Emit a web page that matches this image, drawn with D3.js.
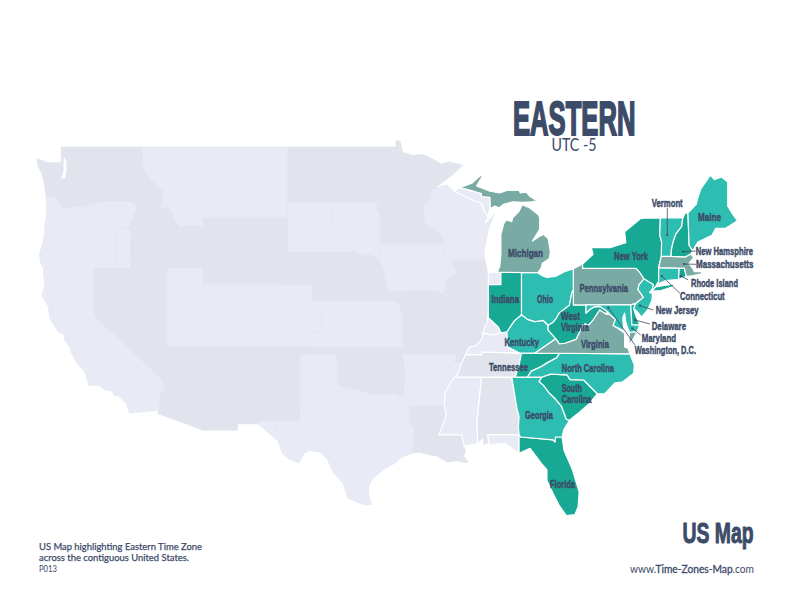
<!DOCTYPE html>
<html>
<head>
<meta charset="utf-8">
<style>
  html, body { margin: 0; padding: 0; background: #fff; }
  svg { display: block; }
  .narrow { font-family: "Liberation Sans Narrow", "Liberation Sans", sans-serif; font-weight: 700; }
  .lato { font-family: Lato, sans-serif; }
</style>
<script src="https://cdn.jsdelivr.net/npm/d3@7"></script>
</head>
<body>
<svg id="map" width="793" height="613"></svg>
<script>
// state outlines, [lon, lat]
const washington = [[-124.73,48.38],[-123.9,48.16],[-123.1,48.15],[-122.75,48.15],[-122.75,49],[-117.03,49],[-117.04,46.42],[-116.92,46],[-119,46],[-119.3,45.93],[-119.9,45.85],[-120.6,45.74],[-121.2,45.65],[-121.7,45.7],[-122.3,45.55],[-122.75,45.65],[-122.8,45.85],[-123.1,46.15],[-123.4,46.2],[-124,46.27],[-124.1,46.7],[-124.15,47],[-124.4,47.6],[-124.7,48]];
const pugetSound = [[-122.55,48.45],[-122.35,48.3],[-122.3,47.8],[-122.4,47.3],[-122.75,47.25],[-122.55,47.7]];
const oregon = [[-124,46.27],[-123.95,45.9],[-123.97,45.2],[-124.1,44.6],[-124.15,43.9],[-124.4,43.2],[-124.55,42.85],[-124.42,42.3],[-124.2,42],[-117.03,42],[-117.03,43.83],[-116.9,44.15],[-117.03,44.25],[-117.2,44.45],[-116.85,45],[-116.67,45.3],[-116.46,45.6],[-116.55,45.75],[-116.78,45.83],[-116.92,46],[-119,46],[-119.3,45.93],[-119.9,45.85],[-120.6,45.74],[-121.2,45.65],[-121.7,45.7],[-122.3,45.55],[-122.75,45.65],[-122.8,45.85],[-123.1,46.15],[-123.4,46.2]];
const california = [[-124.2,42],[-120,42],[-120,39],[-114.63,35],[-114.14,34.3],[-114.45,34],[-114.72,33.4],[-114.52,33.03],[-114.72,32.72],[-117.12,32.53],[-117.25,32.85],[-117.35,33.15],[-118,33.7],[-118.4,33.75],[-118.5,34.03],[-119.2,34.15],[-119.6,34.42],[-120.47,34.45],[-120.65,34.95],[-120.85,35.4],[-121.5,36],[-121.9,36.6],[-122,36.95],[-122.5,37.5],[-122.5,37.8],[-123,38],[-123.7,38.9],[-123.8,39.6],[-124.35,40.3],[-124.1,41],[-124.2,41.75]];
const nevada = [[-120,42],[-114.04,42],[-114.04,36.2],[-114.7,36.1],[-114.63,35],[-120,39]];
const idaho = [[-117.03,49],[-116.05,49],[-116.05,48],[-115.7,47.5],[-114.7,46.7],[-114.35,46.65],[-114.5,45.55],[-113.95,45.7],[-113.45,45.05],[-113,44.45],[-112.3,44.55],[-111.5,44.55],[-111.05,44.48],[-111.05,42],[-117.03,42],[-117.03,43.83],[-116.9,44.15],[-117.03,44.25],[-117.2,44.45],[-116.85,45],[-116.67,45.3],[-116.46,45.6],[-116.55,45.75],[-116.78,45.83],[-116.92,46],[-117.04,46.42]];
const montana = [[-116.05,49],[-104.05,49],[-104.05,45],[-111.05,45],[-111.05,44.48],[-111.5,44.55],[-112.3,44.55],[-113,44.45],[-113.45,45.05],[-113.95,45.7],[-114.5,45.55],[-114.35,46.65],[-114.7,46.7],[-115.7,47.5],[-116.05,48]];
const wyoming = [[-111.05,45],[-104.05,45],[-104.05,41],[-111.05,41]];
const utah = [[-114.04,42],[-111.05,42],[-111.05,41],[-109.05,41],[-109.05,37],[-114.04,37]];
const colorado = [[-109.05,41],[-102.05,41],[-102.05,37],[-109.05,37]];
const arizona = [[-114.04,37],[-109.05,37],[-109.05,31.33],[-111.07,31.33],[-114.81,32.5],[-114.72,32.72],[-114.52,33.03],[-114.72,33.4],[-114.45,34],[-114.14,34.3],[-114.63,35],[-114.7,36.1],[-114.04,36.2]];
const newMexico = [[-109.05,37],[-103,37],[-103.04,32],[-106.62,32],[-106.53,31.78],[-108.21,31.78],[-108.21,31.33],[-109.05,31.33]];
const texas = [[-103.04,36.5],[-100,36.5],[-100,34.56],[-99.7,34.4],[-99.2,34.3],[-98.6,34.15],[-98.1,34.13],[-97.5,33.9],[-97.1,33.75],[-96.6,33.85],[-96,33.85],[-95.3,33.88],[-94.48,33.64],[-94.04,33.55],[-94.04,32],[-93.55,31.2],[-93.7,30.6],[-93.7,30.1],[-93.85,29.7],[-94.7,29.4],[-95.2,29],[-96.2,28.5],[-97.1,27.85],[-97.4,27.3],[-97.4,26.6],[-97.15,25.96],[-97.6,25.9],[-98.2,26.07],[-99.1,26.4],[-99.5,27.5],[-100.3,28.3],[-100.8,29.25],[-101.4,29.77],[-102.3,29.88],[-102.7,29.7],[-103.15,28.98],[-104,29.3],[-104.5,29.65],[-104.9,30.6],[-106,31.4],[-106.53,31.78],[-106.62,32],[-103.04,32]];
const oklahoma = [[-103,37],[-94.62,37],[-94.43,35.4],[-94.48,33.64],[-95.3,33.88],[-96,33.85],[-96.6,33.85],[-97.1,33.75],[-97.5,33.9],[-98.1,34.13],[-98.6,34.15],[-99.2,34.3],[-99.7,34.4],[-100,34.56],[-100,36.5],[-103.04,36.5]];
const kansas = [[-102.05,40],[-95.31,40],[-94.95,39.85],[-94.6,39.1],[-94.62,37],[-102.05,37]];
const nebraska = [[-104.05,43],[-98.5,43],[-98,42.77],[-97.3,42.85],[-96.45,42.5],[-96.1,41.7],[-95.9,41],[-95.31,40],[-102.05,40],[-102.05,41],[-104.05,41]];
const northDakota = [[-104.05,49],[-97.23,49],[-97.1,48],[-96.85,47.5],[-96.55,46.5],[-96.56,45.94],[-104.05,45.94]];
const southDakota = [[-104.05,45.94],[-96.56,45.94],[-96.85,45.6],[-96.45,45.3],[-96.45,43.5],[-96.6,43.5],[-96.45,42.5],[-97.3,42.85],[-98,42.77],[-98.5,43],[-104.05,43]];
const minnesota = [[-97.23,49],[-95.15,49],[-95.15,49.38],[-94.8,49.3],[-94.6,48.72],[-93.8,48.55],[-92.9,48.6],[-92,48.3],[-91.4,48.07],[-90.8,48.2],[-89.6,48],[-90.8,47.3],[-92,46.7],[-92.29,46.66],[-92.29,46.1],[-92.9,45.7],[-92.75,45],[-92.8,44.75],[-91.9,44.3],[-91.25,43.85],[-91.22,43.5],[-96.45,43.5],[-96.45,45.3],[-96.85,45.6],[-96.56,45.94],[-96.55,46.5],[-96.85,47.5],[-97.1,48]];
const iowa = [[-96.45,43.5],[-91.22,43.5],[-91.1,42.7],[-90.65,42.5],[-90.15,41.8],[-91.05,41.2],[-91,40.7],[-91.42,40.38],[-91.73,40.61],[-95.77,40.58],[-95.9,41],[-96.1,41.7],[-96.45,42.5],[-96.6,43.5]];
const missouri = [[-95.77,40.58],[-91.73,40.61],[-91.42,40.38],[-91.5,40],[-90.75,39.25],[-90.7,38.9],[-90.15,38.8],[-90.2,38.4],[-89.5,37.9],[-89.5,37.3],[-89.13,36.98],[-89.4,36.5],[-89.7,36],[-90.37,36],[-90.15,36.5],[-94.62,36.5],[-94.62,37],[-94.6,39.1],[-94.95,39.85],[-95.31,40]];
const arkansas = [[-94.62,36.5],[-90.15,36.5],[-90.37,36],[-89.7,36],[-90.1,35.1],[-90.6,34.7],[-91.1,33.9],[-91.17,33],[-94.04,33],[-94.04,33.55],[-94.48,33.64],[-94.43,35.4]];
const louisiana = [[-94.04,33],[-91.17,33],[-91,32.4],[-91.6,31],[-89.73,31],[-89.53,30.2],[-89.4,29.8],[-89.6,29.5],[-89.2,29.1],[-89.4,29],[-90.1,29.15],[-90.9,29.05],[-91.8,29.5],[-92.3,29.55],[-93.2,29.77],[-93.85,29.7],[-93.7,30.1],[-93.7,30.6],[-93.55,31.2],[-94.04,32]];
const mississippi = [[-91.17,33],[-91.1,33.9],[-90.6,34.7],[-90.3,35],[-88.2,35],[-88.1,34.9],[-88.47,31.9],[-88.4,30.37],[-89.53,30.2],[-89.73,31],[-91.6,31],[-91,32.4]];
const alabama = [[-88.2,35],[-85.6,35],[-85.18,32.87],[-85,32.3],[-85.05,31.55],[-85,31],[-87.6,31],[-87.45,30.4],[-88,30.25],[-88,30.7],[-88.4,30.37],[-88.47,31.9],[-88.1,34.9]];
const floridaPanhandle = [[-87.6,31],[-85,31],[-85,29.7],[-86.2,30.4],[-87.45,30.3],[-87.45,30.4]];
const florida = [[-85,31],[-84.86,30.85],[-82.2,30.65],[-82.05,30.5],[-82,30.85],[-81.45,30.85],[-81.3,29.9],[-80.6,28.5],[-80.05,26.9],[-80.13,25.8],[-80.4,25.2],[-81.1,25.13],[-81.7,25.9],[-82.1,26.6],[-82.7,27.7],[-82.7,28.5],[-83.2,29],[-83.7,29.6],[-84.1,30.05],[-85,29.7]];
const georgia = [[-85.6,35],[-83.1,35],[-83.35,34.7],[-83,34.45],[-82.55,33.95],[-82,33.5],[-81.5,33],[-81.1,32.1],[-80.85,32.03],[-81.3,31.4],[-81.45,30.85],[-82,30.85],[-82.05,30.5],[-82.2,30.65],[-84.86,30.85],[-85,31],[-85.05,31.55],[-85,32.3],[-85.18,32.87]];
const southCarolina = [[-83.1,35],[-82.4,35.2],[-81.05,35.15],[-80.8,34.82],[-79.68,34.8],[-78.55,33.86],[-79.2,33.2],[-80,32.6],[-80.85,32.03],[-81.1,32.1],[-81.5,33],[-82,33.5],[-82.55,33.95],[-83,34.45],[-83.35,34.7]];
const northCarolina = [[-84.32,35],[-83.1,35],[-82.4,35.2],[-81.05,35.15],[-80.8,34.82],[-79.68,34.8],[-78.55,33.86],[-77.95,33.85],[-77.1,34.6],[-76.5,34.65],[-75.55,35.25],[-75.5,35.8],[-75.87,36.55],[-81.68,36.59],[-81.9,36.3],[-82.6,36],[-83.2,35.7],[-84,35.4]];
const tennesseeEast = [[-84.8,36.6],[-81.68,36.59],[-81.9,36.3],[-82.6,36],[-83.2,35.7],[-84,35.4],[-84.32,35],[-85.3,35],[-85,35.8]];
const tennesseeWest = [[-89.4,36.5],[-88.07,36.5],[-88.05,36.68],[-84.8,36.6],[-85,35.8],[-85.3,35],[-90.3,35],[-90.1,35.1],[-89.7,36]];
const kentuckyEast = [[-86,38],[-85.4,38.7],[-84.8,39.1],[-84.3,38.8],[-83.7,38.65],[-83,38.73],[-82.6,38.42],[-82.6,38.1],[-81.97,37.54],[-83.68,36.6],[-84.95,36.6],[-85.95,37]];
const kentuckyWest = [[-89.13,36.98],[-88.5,37.1],[-88.1,37.5],[-87.9,37.9],[-87.1,37.8],[-86.5,37.93],[-86,38],[-85.95,37],[-84.95,36.6],[-88.05,36.68],[-88.07,36.5],[-89.4,36.5]];
const illinois = [[-90.65,42.5],[-87.8,42.5],[-87.6,41.8],[-87.53,41.7],[-87.53,39.35],[-87.6,38.7],[-88.05,37.85],[-87.9,37.9],[-88.1,37.5],[-88.5,37.1],[-89.13,36.98],[-89.5,37.3],[-89.5,37.9],[-90.2,38.4],[-90.15,38.8],[-90.7,38.9],[-90.75,39.25],[-91.5,40],[-91.42,40.38],[-91,40.7],[-91.05,41.2],[-90.15,41.8]];
const indiana = [[-86.5,41.76],[-84.8,41.76],[-84.8,39.1],[-85.4,38.7],[-86,38],[-86.5,37.93],[-86.7,38.3],[-87.53,38.9],[-87.53,41],[-86.5,41]];
const indianaNorthwest = [[-87.53,41.7],[-87.2,41.76],[-86.5,41.76],[-86.5,41],[-87.53,41]];
const indianaSouthwest = [[-87.53,38.9],[-86.7,38.3],[-86.5,37.93],[-87.1,37.8],[-87.9,37.9],[-88.05,37.85],[-87.6,38.7],[-87.53,39.35]];
const ohio = [[-84.8,41.76],[-83.45,41.73],[-83.1,41.55],[-82.7,41.45],[-82,41.5],[-81.3,41.78],[-80.52,41.98],[-80.52,40.64],[-80.65,40.5],[-80.85,39.7],[-81.7,39.2],[-81.9,38.9],[-82.2,38.6],[-82.6,38.42],[-83,38.73],[-83.7,38.65],[-84.3,38.8],[-84.8,39.1]];
const michiganLower = [[-86.8,41.76],[-83.45,41.73],[-83.15,42.05],[-83.1,42.3],[-82.5,42.6],[-82.42,43],[-82.6,43.8],[-83,44.05],[-83.4,43.9],[-83.9,43.65],[-83.55,44.05],[-83.3,44.35],[-83.3,45],[-83.4,45.2],[-84.2,45.63],[-84.75,45.78],[-85,45.4],[-85.55,45],[-85.6,44.8],[-86.05,44.9],[-86.25,44.7],[-86.5,44.05],[-86.5,43.5],[-86.5,42.8],[-86.6,42.1]];
const michiganUpper = [[-89.87,46.75],[-88.9,47],[-88.2,47.42],[-88,47.42],[-88.5,46.85],[-87.4,46.55],[-86.6,46.45],[-86,46.6],[-85,46.6],[-84.9,46.45],[-84.4,46.5],[-84.1,46.25],[-83.5,46],[-84,45.95],[-84.7,45.92],[-85.5,45.95],[-86.3,45.8],[-86.65,45.6],[-87,45.7],[-87.37,45.55],[-87.4,46.2],[-88.1,46.25],[-88.1,46.42],[-89,46.6]];
const michiganCentral = [[-90.42,46.57],[-89.87,46.75],[-89,46.6],[-88.1,46.42],[-88.1,46.25],[-87.4,46.2],[-87.37,45.55],[-87.6,45.1],[-87.85,45.35],[-88.1,45.85],[-88.7,46],[-89.1,46.15]];
const wisconsin = [[-92.29,46.66],[-92,46.7],[-91,46.9],[-90.42,46.57],[-89.1,46.15],[-88.7,46],[-88.1,45.85],[-87.85,45.35],[-87.6,45.1],[-88,44.55],[-87.5,44.85],[-87.05,45.25],[-87.5,44.4],[-87.75,43.6],[-87.9,43],[-87.8,42.5],[-90.65,42.5],[-91.1,42.7],[-91.22,43.5],[-91.25,43.85],[-91.9,44.3],[-92.8,44.75],[-92.75,45],[-92.9,45.7],[-92.29,46.1]];
const pennsylvania = [[-80.52,41.98],[-79.76,42.27],[-79.76,42],[-75.35,42],[-75.05,41.75],[-74.7,41.36],[-75.1,41],[-75.2,40.7],[-74.75,40.2],[-75.4,39.8],[-75.79,39.72],[-80.52,39.72]];
const newYork = [[-79.76,42.27],[-78.9,42.85],[-79.05,43.27],[-77.5,43.25],[-76.2,43.55],[-76.3,44.2],[-75,44.97],[-74.7,45],[-73.35,45.01],[-73.4,44],[-73.25,43.6],[-73.27,42.75],[-73.5,42.05],[-73.49,41.2],[-73.65,41],[-73.9,40.7],[-74,40.75],[-73.92,41],[-74.7,41.36],[-75.05,41.75],[-75.35,42],[-79.76,42]];
const longIsland = [[-74,40.6],[-73.75,40.85],[-72.6,41],[-71.9,41.1],[-72.4,40.85],[-73.3,40.62]];
const newJersey = [[-73.92,41],[-74.7,41.36],[-75.1,41],[-75.2,40.7],[-74.75,40.2],[-75.4,39.8],[-75.55,39.5],[-75.2,39.25],[-74.9,38.95],[-74.4,39.4],[-74.05,40],[-74,40.45],[-74.25,40.5],[-74,40.75]];
const delaware = [[-75.79,39.72],[-75.4,39.8],[-75.55,39.5],[-75.4,39.1],[-75.05,38.45],[-75.7,38.46]];
const maryland = [[-79.48,39.72],[-75.79,39.72],[-75.7,38.46],[-75.05,38.45],[-75.25,38.03],[-75.9,37.95],[-76.2,38.6],[-76.3,39.2],[-76.45,38.9],[-76.4,38.3],[-76.3,38.05],[-77,38.3],[-77.25,38.4],[-77.05,38.8],[-77.5,39.1],[-77.75,39.32],[-78.35,39.63],[-78.8,39.6],[-79.1,39.47],[-79.48,39.2]];
const virginia = [[-83.68,36.6],[-81.68,36.59],[-75.87,36.55],[-76,36.9],[-76.3,37],[-76.3,37.9],[-77,38.3],[-77.25,38.4],[-77.05,38.8],[-77.5,39.1],[-77.83,39.13],[-78.35,39.4],[-78.9,38.75],[-79.3,38.4],[-79.65,38.55],[-80.3,37.5],[-81.2,37.25],[-81.68,37.2],[-81.97,37.54]];
const virginiaShore = [[-75.25,38.03],[-75.9,37.95],[-75.95,37.15],[-75.6,37.5]];
const westVirginia = [[-80.52,40.64],[-80.52,39.72],[-79.48,39.72],[-79.48,39.2],[-79.1,39.47],[-78.8,39.6],[-78.35,39.63],[-77.75,39.32],[-77.83,39.13],[-78.35,39.4],[-78.9,38.75],[-79.3,38.4],[-79.65,38.55],[-80.3,37.5],[-81.2,37.25],[-81.68,37.2],[-81.97,37.54],[-82.6,38.1],[-82.6,38.42],[-82.2,38.6],[-81.9,38.9],[-81.7,39.2],[-80.85,39.7],[-80.65,40.5]];
const connecticut = [[-73.49,42.05],[-71.8,42.02],[-71.85,41.32],[-72.9,41.25],[-73.65,41],[-73.49,41.2]];
const rhodeIsland = [[-71.8,42.02],[-71.38,42.02],[-71.2,41.5],[-71.85,41.32]];
const massachusetts = [[-73.27,42.75],[-71.3,42.7],[-70.85,42.87],[-70.6,42.65],[-71,42.3],[-70.65,41.95],[-70.55,41.8],[-70,41.8],[-70,42.05],[-69.95,41.67],[-70.65,41.55],[-71.2,41.5],[-71.38,42.02],[-71.8,42.02],[-73.49,42.05]];
const vermont = [[-73.35,45.01],[-71.5,45.01],[-71.6,44.5],[-72.05,44.1],[-72.3,43.6],[-72.45,43.1],[-72.46,42.73],[-73.27,42.75],[-73.25,43.6],[-73.4,44]];
const newHampshire = [[-71.5,45.01],[-71.3,45.3],[-71.08,45.3],[-70.98,43.4],[-70.7,43.07],[-70.85,42.87],[-71.3,42.7],[-72.46,42.73],[-72.45,43.1],[-72.3,43.6],[-72.05,44.1],[-71.6,44.5]];
const maine = [[-71.08,45.3],[-70.4,45.8],[-70.25,46.2],[-70,46.7],[-69.23,47.46],[-68.9,47.2],[-68.3,47.35],[-67.8,47.07],[-67.8,45.7],[-67.45,45.3],[-67,44.85],[-68,44.4],[-68.8,44.4],[-69.1,44],[-69.8,43.75],[-70.25,43.6],[-70.7,43.07],[-70.98,43.4]];

// faint county lines left over from the other time zones
const oregonSeam = [[-117.03,44.38],[-118.25,44.38],[-118.25,42.4],[-117.03,42.4]];
const idahoSeam = [[-116.85,46],[-116,45.75],[-114.5,45.55]];
const northDakotaSeam = [[-102.4,47],[-101.3,46.8],[-100.5,46.5],[-100.5,45.94]];
const southDakotaSeam = [[-100.45,45.94],[-100.35,45.1],[-100.6,44.5],[-101.17,43.9],[-101.2,43]];
const nebraskaSeam = [[-100.6,43],[-100.75,41.9],[-101.25,41.7],[-101.25,40]];
const kansasSeam = [[-102.05,39.57],[-101.3,39.57],[-101.35,38],[-102.05,38]];
const texasSeam = [[-105,32],[-105,31]];

// shades
const paleStates = ["Oregon", "California", "Montana", "Utah", "Colorado", "Texas", "Kansas", "South Dakota", "Iowa", "Wisconsin", "Michigan Central", "Arkansas", "Mississippi", "Indiana NW", "Indiana SW", "Kentucky West", "Florida Panhandle"];
const greyStates = ["Washington", "Idaho", "Nevada", "Wyoming", "Arizona", "New Mexico", "Oklahoma", "Nebraska", "North Dakota", "Minnesota", "Missouri", "Illinois", "Louisiana", "Alabama", "Tennessee West"];
const darkTealStates = ["New York", "Long Island", "New Hampshire", "Indiana", "West Virginia", "Tennessee East", "South Carolina", "Florida", "Delaware", "Rhode Island"];
const midTealStates = ["Maine", "Vermont", "Connecticut", "New Jersey", "Maryland", "Ohio", "Kentucky East", "North Carolina", "Georgia"];
const mutedTealStates = ["Michigan", "Michigan Upper", "Pennsylvania", "Virginia", "Virginia Shore", "Massachusetts"];
// these carry a white edge even though they are not in the zone
const whiteEdgeStates = ["Michigan Central", "Indiana NW", "Indiana SW", "Kentucky West", "Tennessee West", "Mississippi", "Alabama", "Florida Panhandle"];

const stateShapes = {
  "Washington": washington, "Oregon": oregon, "California": california, "Nevada": nevada, "Idaho": idaho,
  "Montana": montana, "Wyoming": wyoming, "Utah": utah, "Colorado": colorado, "Arizona": arizona,
  "New Mexico": newMexico, "Texas": texas, "Oklahoma": oklahoma, "Kansas": kansas, "Nebraska": nebraska,
  "North Dakota": northDakota, "South Dakota": southDakota, "Minnesota": minnesota, "Iowa": iowa,
  "Missouri": missouri, "Arkansas": arkansas, "Louisiana": louisiana, "Wisconsin": wisconsin, "Illinois": illinois,
  "Mississippi": mississippi, "Alabama": alabama, "Florida Panhandle": floridaPanhandle,
  "Tennessee West": tennesseeWest, "Kentucky West": kentuckyWest, "Indiana NW": indianaNorthwest,
  "Indiana SW": indianaSouthwest, "Michigan Central": michiganCentral,
  "Florida": florida, "Georgia": georgia, "South Carolina": southCarolina, "North Carolina": northCarolina,
  "Tennessee East": tennesseeEast, "Kentucky East": kentuckyEast, "Indiana": indiana, "Ohio": ohio,
  "Michigan": michiganLower, "Michigan Upper": michiganUpper, "West Virginia": westVirginia, "Virginia": virginia,
  "Virginia Shore": virginiaShore, "Pennsylvania": pennsylvania, "Maryland": maryland, "Delaware": delaware,
  "New Jersey": newJersey, "New York": newYork, "Long Island": longIsland, "Connecticut": connecticut,
  "Rhode Island": rhodeIsland, "Massachusetts": massachusetts, "Vermont": vermont,
  "New Hampshire": newHampshire, "Maine": maine
};

const seams = [oregonSeam, idahoSeam, northDakotaSeam, southDakotaSeam, nebraskaSeam, kansasSeam, texasSeam];

const PALE = "#e8ebf5", GREY = "#e1e4ed", SEAM = "#dfe2ec";
const DARK_TEAL = "#18a994", MID_TEAL = "#2dbdb1", MUTED_TEAL = "#79aaa4";
const INK = "#3b4b68";

function toneOf(name) {
  if (paleStates.includes(name)) return PALE;
  if (greyStates.includes(name)) return GREY;
  if (darkTealStates.includes(name)) return DARK_TEAL;
  if (midTealStates.includes(name)) return MID_TEAL;
  return MUTED_TEAL;
}
function hasWhiteEdge(name) {
  return darkTealStates.includes(name) || midTealStates.includes(name) || mutedTealStates.includes(name) || whiteEdgeStates.includes(name);
}

// mercator, pinned on the Montana/North Dakota corner
const projection = d3.geoMercator().scale(695).translate([0, 0]);
const anchor = projection([-104.05, 49]);
projection.translate([288 - anchor[0], 147 - anchor[1]]);
const lineGen = d3.line();
const shapePath = pts => lineGen(pts.map(projection)) + "Z";

const svg = d3.select("#map");

const names = Object.keys(stateShapes);
const plainNames = names.filter(n => !hasWhiteEdge(n));
const edgedNames = names.filter(hasWhiteEdge);

svg.append("g").selectAll("path").data(plainNames).join("path")
  .attr("d", n => shapePath(stateShapes[n]))
  .attr("fill", toneOf)
  .attr("stroke", SEAM)
  .attr("stroke-width", 0.5)
  .attr("stroke-linejoin", "round");

svg.append("g").selectAll("path").data(seams).join("path")
  .attr("d", pts => lineGen(pts.map(projection)))
  .attr("fill", "none")
  .attr("stroke", SEAM)
  .attr("stroke-width", 0.5);

svg.append("path").attr("d", shapePath(pugetSound)).attr("fill", "#fff");

svg.append("g").selectAll("path").data(edgedNames).join("path")
  .attr("d", n => shapePath(stateShapes[n]))
  .attr("fill", toneOf)
  .attr("stroke", "#fff")
  .attr("stroke-width", 1.2)
  .attr("stroke-linejoin", "round");

// leader lines: label end, state end
const leaders = [
  [[667.3,208],[667.3,235]], [[695.5,251],[683.3,251.7]], [[696,264.3],[684,264]],
  [[688.3,280],[680.7,276]], [[680,293.3],[661.7,276]], [[653.3,310],[640,305.7]],
  [[650,324],[635,320]], [[640.7,335],[632.3,328.3]], [[635,345],[608.3,307.7]]
];
svg.append("g").selectAll("path").data(leaders).join("path")
  .attr("d", d => lineGen(d))
  .attr("stroke", INK).attr("stroke-width", 0.8).attr("fill", "none");
svg.append("g").selectAll("circle").data(leaders).join("circle")
  .attr("cx", d => d[1][0]).attr("cy", d => d[1][1]).attr("r", 1.1).attr("fill", INK);

// label, left x, right x, baseline
const labels = [
  ["Michigan",508,543,257], ["Indiana",491.5,519,303], ["Ohio",537,553,302.7], ["Pennsylvania",579.5,628,291.7],
  ["West",561,580,320], ["Virginia",561,589,331], ["Kentucky",504.5,539,346], ["Virginia",581,609,347.7],
  ["Tennessee",489,528,370.7], ["North Carolina",561.7,614,372], ["South",561.7,582,392], ["Carolina",561.7,591.5,403],
  ["Georgia",525,553,419], ["Florida",550,575,488], ["Maine",698,721,220.7], ["Vermont",651.7,682.7,206.7],
  ["New York",614,648,260], ["New Hamsphire",695.7,753,255], ["Massachusetts",696,753.5,267.7],
  ["Rhode Island",691,738,286.7], ["Connecticut",680,724.7,300], ["New Jersey",655.7,698.7,314],
  ["Delaware",651.7,686,330], ["Maryland",641.7,676,341.7], ["Washington, D.C.",634.7,696,354]
];
svg.append("g").selectAll("text").data(labels).join("text")
  .attr("class", "narrow")
  .attr("x", d => d[1]).attr("y", d => d[3])
  .attr("textLength", d => d[2] - d[1]).attr("lengthAdjust", "spacingAndGlyphs")
  .attr("font-size", 11.5).attr("fill", INK)
  .attr("stroke", INK).attr("stroke-width", 0.45)
  .text(d => d[0]);

function put(text, x, y, size, width, cls, weight, strokeW) {
  const t = svg.append("text").attr("class", cls)
    .attr("x", x).attr("y", y).attr("font-size", size)
    .attr("fill", INK).text(text);
  if (width) t.attr("textLength", width).attr("lengthAdjust", "spacingAndGlyphs");
  if (weight) t.attr("font-weight", weight);
  if (strokeW) t.attr("stroke", INK).attr("stroke-width", strokeW);
  return t;
}

put("EASTERN", 513, 134.5, 48, 122.5, "narrow", null, 2);
put("UTC -5", 551.5, 150.7, 16.5, 45, "lato");
put("US Map highlighting Eastern Time Zone", 39, 550, 10, 163, "lato", null, 0.25);
put("across the contiguous United States.", 39, 560.7, 10, 150, "lato", null, 0.25);
put("P013", 39, 571.6, 8.5, 18, "lato");
put("US Map", 682.5, 542.5, 29, 71, "narrow", null, 1);

const site = put("", 630, 573, 10.5, 124, "lato");
site.append("tspan").text("www.");
site.append("tspan").attr("stroke", INK).attr("stroke-width", 0.3).text("Time-Zones-Map");
site.append("tspan").text(".com");
</script>
</body>
</html>
